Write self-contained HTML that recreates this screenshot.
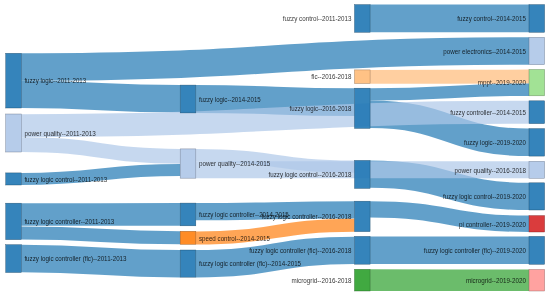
<!DOCTYPE html>
<html><head><meta charset="utf-8"><title>Thematic evolution</title>
<style>
html,body{margin:0;padding:0;background:#fff;}
body{width:550px;height:296px;overflow:hidden;}
svg{display:block;}
.lk{fill:none;stroke-opacity:0.7;}
.lf{stroke:none;fill-opacity:0.7;}
.nd{fill-opacity:.9;stroke-width:.5;stroke-opacity:.7;}
text{font-family:"Liberation Sans",Arial,sans-serif;font-size:6.3px;fill:#000;fill-opacity:.8;}
</style></head><body>
<svg width="550" height="296" viewBox="0 0 550 296">
<g>
<path class="lk" d="M195.8,99C275.15,99 275.15,102.1 354.5,102.1" stroke="#1f77b4" stroke-width="27.8"/>
<path class="lk" d="M370.1,18.45C449.55,18.45 449.55,18.45 529,18.45" stroke="#1f77b4" stroke-width="27.7"/>
<path class="lk" d="M21.3,67.05C275.15,67.05 275.15,51.05 529,51.05" stroke="#1f77b4" stroke-width="27.5"/>
<path class="lk" d="M370.1,114.35C449.55,114.35 449.55,142.35 529,142.35" stroke="#1f77b4" stroke-width="27.5"/>
<path class="lk" d="M370.1,250.15C449.55,250.15 449.55,250.15 529,250.15" stroke="#1f77b4" stroke-width="27.5"/>
<path class="lk" d="M21.3,258.5C100.75,258.5 100.75,263.7 180.2,263.7" stroke="#1f77b4" stroke-width="27.4"/>
<path class="lk" d="M195.8,263.8C275.15,263.8 275.15,250.4 354.5,250.4" stroke="#1f77b4" stroke-width="27.4"/>
<path class="lk" d="M370.1,174.05C449.55,174.05 449.55,196.45 529,196.45" stroke="#1f77b4" stroke-width="27.3"/>
<path class="lk" d="M21.3,94.4C100.75,94.4 100.75,98.7 180.2,98.7" stroke="#1f77b4" stroke-width="27.2"/>
<path class="lk" d="M21.3,125.7C275.15,125.7 275.15,112.3 529,112.3" stroke="#aec7e8" stroke-width="23"/>
<path class="lk" d="M21.3,214.5C100.75,214.5 100.75,214.4 180.2,214.4" stroke="#1f77b4" stroke-width="22.6"/>
<path class="lk" d="M370.1,280.1C449.55,280.1 449.55,280.3 529,280.3" stroke="#2ca02c" stroke-width="21.6"/>
<path class="lk" d="M195.8,211.65C275.15,211.65 275.15,209.85 354.5,209.85" stroke="#1f77b4" stroke-width="17.1"/>
<path class="lk" d="M195.8,169.7C362.4,169.7 362.4,169.8 529,169.8" stroke="#aec7e8" stroke-width="17"/>
<path class="lk" d="M370.1,209.4C449.55,209.4 449.55,223.8 529,223.8" stroke="#1f77b4" stroke-width="16.4"/>
<path class="lk" d="M21.3,144.6C100.75,144.6 100.75,156.3 180.2,156.3" stroke="#aec7e8" stroke-width="14.8"/>
<path class="lk" d="M370.1,76.85C449.55,76.85 449.55,76.55 529,76.55" stroke="#ffbb78" stroke-width="13.9"/>
<path class="lk" d="M21.3,232.95C100.75,232.95 100.75,237.75 180.2,237.75" stroke="#1f77b4" stroke-width="13.1"/>
<path class="lk" d="M195.8,238C275.15,238 275.15,225.2 354.5,225.2" stroke="#ff7f0e" stroke-width="13"/>
<path class="lk" d="M195.8,155.05C275.15,155.05 275.15,166.55 354.5,166.55" stroke="#aec7e8" stroke-width="12.3"/>
<path class="lk" d="M370.1,94.45C449.55,94.45 449.55,89.75 529,89.75" stroke="#1f77b4" stroke-width="12.3"/>
<path class="lk" d="M21.3,178.95C100.75,178.95 100.75,170.05 180.2,170.05" stroke="#1f77b4" stroke-width="12.1"/>
</g>
<g>
<rect class="nd" x="5.7" y="53.3" width="15.6" height="54.7" fill="#1f77b4" stroke="#0f3a58"/>
<rect class="nd" x="5.7" y="114" width="15.6" height="38" fill="#aec7e8" stroke="#56647a"/>
<rect class="nd" x="5.7" y="172.9" width="15.6" height="12.1" fill="#1f77b4" stroke="#0f3a58"/>
<rect class="nd" x="5.7" y="203.2" width="15.6" height="36.4" fill="#1f77b4" stroke="#0f3a58"/>
<rect class="nd" x="5.7" y="244.7" width="15.6" height="27.8" fill="#1f77b4" stroke="#0f3a58"/>
<rect class="nd" x="180.2" y="85.1" width="15.6" height="27.8" fill="#1f77b4" stroke="#0f3a58"/>
<rect class="nd" x="180.2" y="148.9" width="15.6" height="29.3" fill="#aec7e8" stroke="#56647a"/>
<rect class="nd" x="180.2" y="203.1" width="15.6" height="22.7" fill="#1f77b4" stroke="#0f3a58"/>
<rect class="nd" x="180.2" y="231.3" width="15.6" height="13" fill="#ff7f0e" stroke="#7f3f07"/>
<rect class="nd" x="180.2" y="250" width="15.6" height="27.2" fill="#1f77b4" stroke="#0f3a58"/>
<rect class="nd" x="354.5" y="4.6" width="15.6" height="27.7" fill="#1f77b4" stroke="#0f3a58"/>
<rect class="nd" x="354.5" y="69.9" width="15.6" height="13.6" fill="#ffbb78" stroke="#7f5d3c"/>
<rect class="nd" x="354.5" y="88.2" width="15.6" height="40.2" fill="#1f77b4" stroke="#0f3a58"/>
<rect class="nd" x="354.5" y="160.4" width="15.6" height="28" fill="#1f77b4" stroke="#0f3a58"/>
<rect class="nd" x="354.5" y="201.2" width="15.6" height="30.4" fill="#1f77b4" stroke="#0f3a58"/>
<rect class="nd" x="354.5" y="236.4" width="15.6" height="27.8" fill="#1f77b4" stroke="#0f3a58"/>
<rect class="nd" x="354.5" y="269.3" width="15.6" height="21.7" fill="#2ca02c" stroke="#165016"/>
<rect class="nd" x="529" y="4.6" width="15.6" height="27.7" fill="#1f77b4" stroke="#0f3a58"/>
<rect class="nd" x="529" y="37.3" width="15.6" height="27.4" fill="#aec7e8" stroke="#56647a"/>
<rect class="nd" x="529" y="69.5" width="15.6" height="26.3" fill="#98df8a" stroke="#4c6f45"/>
<rect class="nd" x="529" y="100.8" width="15.6" height="22.8" fill="#1f77b4" stroke="#0f3a58"/>
<rect class="nd" x="529" y="128.6" width="15.6" height="27.5" fill="#1f77b4" stroke="#0f3a58"/>
<rect class="nd" x="529" y="161.3" width="15.6" height="17" fill="#aec7e8" stroke="#56647a"/>
<rect class="nd" x="529" y="182.8" width="15.6" height="27.2" fill="#1f77b4" stroke="#0f3a58"/>
<rect class="nd" x="529" y="215.6" width="15.6" height="16.4" fill="#d62728" stroke="#6b1314"/>
<rect class="nd" x="529" y="236.4" width="15.6" height="27.9" fill="#1f77b4" stroke="#0f3a58"/>
<rect class="nd" x="529" y="269.5" width="15.6" height="21.5" fill="#ff9896" stroke="#7f4c4b"/>
</g>
<g>
<text x="24.4" y="80.65" dy="2.75" textLength="61.81" lengthAdjust="spacingAndGlyphs">fuzzy logic--2011-2013</text>
<text x="24.4" y="133" dy="2.75" textLength="71.35" lengthAdjust="spacingAndGlyphs">power quality--2011-2013</text>
<text x="24.4" y="178.95" dy="2.75" textLength="82.82" lengthAdjust="spacingAndGlyphs">fuzzy logic control--2011-2013</text>
<text x="24.4" y="221.4" dy="2.75" textLength="89.9" lengthAdjust="spacingAndGlyphs">fuzzy logic controller--2011-2013</text>
<text x="24.4" y="258.6" dy="2.75" textLength="102.16" lengthAdjust="spacingAndGlyphs">fuzzy logic controller (flc)--2011-2013</text>
<text x="198.9" y="99" dy="2.75" textLength="61.81" lengthAdjust="spacingAndGlyphs">fuzzy logic--2014-2015</text>
<text x="198.9" y="163.55" dy="2.75" textLength="71.35" lengthAdjust="spacingAndGlyphs">power quality--2014-2015</text>
<text x="198.9" y="214.45" dy="2.75" textLength="89.9" lengthAdjust="spacingAndGlyphs">fuzzy logic controller--2014-2015</text>
<text x="198.9" y="237.8" dy="2.75" textLength="71.11" lengthAdjust="spacingAndGlyphs">speed control--2014-2015</text>
<text x="198.9" y="263.6" dy="2.75" textLength="102.16" lengthAdjust="spacingAndGlyphs">fuzzy logic controller (flc)--2014-2015</text>
<text x="351.4" y="18.45" dy="2.75" text-anchor="end" textLength="68.59" lengthAdjust="spacingAndGlyphs">fuzzy control--2011-2013</text>
<text x="351.4" y="76.7" dy="2.75" text-anchor="end" textLength="40.06" lengthAdjust="spacingAndGlyphs">flc--2016-2018</text>
<text x="351.4" y="108.3" dy="2.75" text-anchor="end" textLength="61.81" lengthAdjust="spacingAndGlyphs">fuzzy logic--2016-2018</text>
<text x="351.4" y="174.4" dy="2.75" text-anchor="end" textLength="82.82" lengthAdjust="spacingAndGlyphs">fuzzy logic control--2016-2018</text>
<text x="351.4" y="216.4" dy="2.75" text-anchor="end" textLength="89.9" lengthAdjust="spacingAndGlyphs">fuzzy logic controller--2016-2018</text>
<text x="351.4" y="250.3" dy="2.75" text-anchor="end" textLength="102.16" lengthAdjust="spacingAndGlyphs">fuzzy logic controller (flc)--2016-2018</text>
<text x="351.4" y="280.15" dy="2.75" text-anchor="end" textLength="59.88" lengthAdjust="spacingAndGlyphs">microgrid--2016-2018</text>
<text x="525.9" y="18.45" dy="2.75" text-anchor="end" textLength="68.59" lengthAdjust="spacingAndGlyphs">fuzzy control--2014-2015</text>
<text x="525.9" y="51" dy="2.75" text-anchor="end" textLength="82.55" lengthAdjust="spacingAndGlyphs">power electronics--2014-2015</text>
<text x="525.9" y="82.65" dy="2.75" text-anchor="end" textLength="48.15" lengthAdjust="spacingAndGlyphs">mppt--2019-2020</text>
<text x="525.9" y="112.2" dy="2.75" text-anchor="end" textLength="75.66" lengthAdjust="spacingAndGlyphs">fuzzy controller--2014-2015</text>
<text x="525.9" y="142.35" dy="2.75" text-anchor="end" textLength="61.81" lengthAdjust="spacingAndGlyphs">fuzzy logic--2019-2020</text>
<text x="525.9" y="169.8" dy="2.75" text-anchor="end" textLength="71.35" lengthAdjust="spacingAndGlyphs">power quality--2016-2018</text>
<text x="525.9" y="196.4" dy="2.75" text-anchor="end" textLength="82.82" lengthAdjust="spacingAndGlyphs">fuzzy logic control--2019-2020</text>
<text x="525.9" y="223.8" dy="2.75" text-anchor="end" textLength="66.81" lengthAdjust="spacingAndGlyphs">pi controller--2019-2020</text>
<text x="525.9" y="250.35" dy="2.75" text-anchor="end" textLength="102.16" lengthAdjust="spacingAndGlyphs">fuzzy logic controller (flc)--2019-2020</text>
<text x="525.9" y="280.25" dy="2.75" text-anchor="end" textLength="59.88" lengthAdjust="spacingAndGlyphs">microgrid--2019-2020</text>
</g>
</svg>
</body></html>
